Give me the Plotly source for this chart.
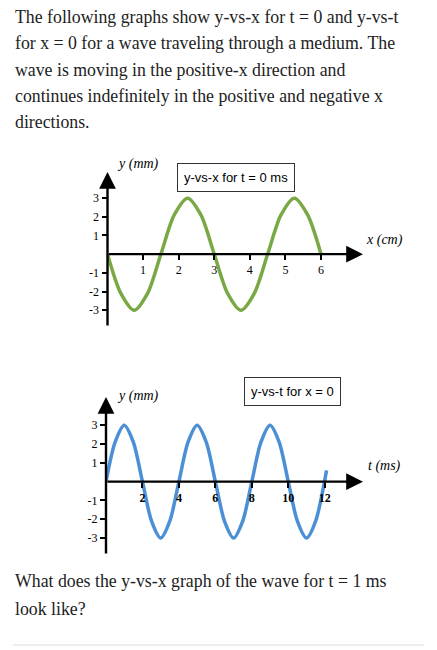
import plotly.graph_objects as go

# wave at t = 0 (y vs x), peaks, zeros and midpoints
x_cm = [0, 0.375, 0.75, 1.125, 1.5, 1.875, 2.25, 2.625, 3, 3.375, 3.75, 4.125,
        4.5, 4.875, 5.25, 5.625, 6]
y_x = [0, -2.1, -3, -2.1, 0, 2.1, 3, 2.1, 0, -2.1, -3, -2.1, 0, 2.1, 3, 2.1, 0]
# wave at x = 0 (y vs t)
t_ms = [0, 0.5, 1, 1.5, 2, 2.5, 3, 3.5, 4, 4.5, 5, 5.5, 6, 6.5, 7, 7.5, 8, 8.5,
        9, 9.5, 10, 10.5, 11, 11.5, 12.1]
y_t = [0, 2.1, 3, 2.1, 0, -2.1, -3, -2.1, 0, 2.1, 3, 2.1, 0, -2.1, -3, -2.1, 0,
       2.1, 3, 2.1, 0, -2.1, -3, -2.1, 0.6]

top_xticks = [1, 2, 3, 4, 5, 6]
bot_xticks = [2, 4, 6, 8, 10, 12]
yticks = [-3, -2, -1, 1, 2, 3]
ytick_text = ["-3", "-2", "-1", "1", "2", "3"]

intro = ["The following graphs show y-vs-x for t = 0 and y-vs-t",
         "for x = 0 for a wave traveling through a medium. The",
         "wave is moving in the positive-x direction and",
         "continues indefinitely in the positive and negative x",
         "directions."]
question = ["What does the y-vs-x graph of the wave for t = 1 ms",
            "look like?"]

SERIF = "Liberation Serif"
OFF = 8  # page body margin
W, H = 437 - OFF, 650 - OFF

def px(p):
    return (p - OFF) / W

def py(p):
    return 1 - (p - OFF) / H

fig = go.Figure()
fig.add_trace(go.Scatter(x=x_cm, y=y_x, mode="lines", xaxis="x", yaxis="y",
                         line=dict(color="#79a845", width=3.5, shape="spline", smoothing=0.8)))
fig.add_trace(go.Scatter(x=t_ms, y=y_t, mode="lines", xaxis="x2", yaxis="y2",
                         line=dict(color="#4b8fd4", width=3.5, shape="spline", smoothing=0.8)))

tick_font = dict(family=SERIF, size=12, color="black")
common_x = dict(showgrid=False, zeroline=False, showline=False, ticks="outside",
                ticklen=5, tickwidth=1.5, tickcolor="black", anchor="free")
common_y = dict(showgrid=False, zeroline=False, showline=False, ticks="outside",
                ticklen=6, tickwidth=1.5, tickcolor="black", tickvals=yticks,
                ticktext=ytick_text, tickfont=tick_font, anchor="free")

fig.update_layout(
    width=W, height=H, margin=dict(l=0, r=0, t=0, b=0),
    paper_bgcolor="white", plot_bgcolor="rgba(0,0,0,0)", showlegend=False,
    xaxis=dict(domain=[px(107.5), px(363)], range=[0, 7.18], position=py(254),
               tickvals=top_xticks, tickfont=tick_font, **common_x),
    yaxis=dict(domain=[py(327), py(172)], range=[-3.9, 4.4], position=px(107.5), **common_y),
    xaxis2=dict(domain=[px(106), px(363)], range=[0, 14.1], position=py(481.5),
                tickvals=bot_xticks, tickfont=dict(family=SERIF, size=12, color="black", weight="bold"),
                **common_x),
    yaxis2=dict(domain=[py(555), py(397)], range=[-3.9, 4.5], position=px(106), **common_y),
)

ann = []
# axis arrows
for xr, yr, x0, y0, x1, y1 in [("x", "y", 0, -3.9, 0, 4.4), ("x", "y", 0, 0, 7.18, 0),
                               ("x2", "y2", 0, -3.9, 0, 4.5), ("x2", "y2", 0, 0, 14.1, 0)]:
    ann.append(dict(x=x1, y=y1, ax=x0, ay=y0, xref=xr, yref=yr, axref=xr, ayref=yr,
                    showarrow=True, arrowhead=2, arrowsize=1.4, arrowwidth=2.4,
                    arrowcolor="black", text=""))

lab = dict(family=SERIF, size=14, color="black", style="italic")
for txt, x, y in [("y (mm)", 115, 164), ("x (cm)", 364, 240), ("y (mm)", 115, 396), ("t (ms)", 366, 466)]:
    ann.append(dict(text=txt, x=px(x), y=py(y), xref="paper", yref="paper",
                    xanchor="left", yanchor="middle", showarrow=False, font=lab))

for txt, x0, x1, yc in [("y-vs-x for t = 0 ms", 233, 357, 163), ("y-vs-t for x = 0", 240, 345, 391)]:
    ann.append(dict(text=txt, x=px((x0 + x1) / 2), y=py(yc), xref="paper", yref="paper",
                    showarrow=False, bordercolor="#333", borderwidth=1, borderpad=6,
                    bgcolor="white", font=dict(family="Liberation Sans", size=13, color="black")))

for i, line in enumerate(intro):
    ann.append(dict(text=line, x=px(13), y=py(17 + 26.3 * i), xref="paper", yref="paper",
                    xanchor="left", yanchor="middle", showarrow=False,
                    font=dict(family=SERIF, size=17.8, color="#222")))
for i, line in enumerate(question):
    ann.append(dict(text=line, x=px(13), y=py(581 + 28 * i), xref="paper", yref="paper",
                    xanchor="left", yanchor="middle", showarrow=False,
                    font=dict(family=SERIF, size=17.8, color="#222")))

fig.update_layout(annotations=ann, shapes=[
    dict(type="line", xref="paper", yref="paper", x0=px(13), x1=px(424), y0=py(645), y1=py(645),
         line=dict(color="#ddd", width=1))])

fig.write_html("out.html")
